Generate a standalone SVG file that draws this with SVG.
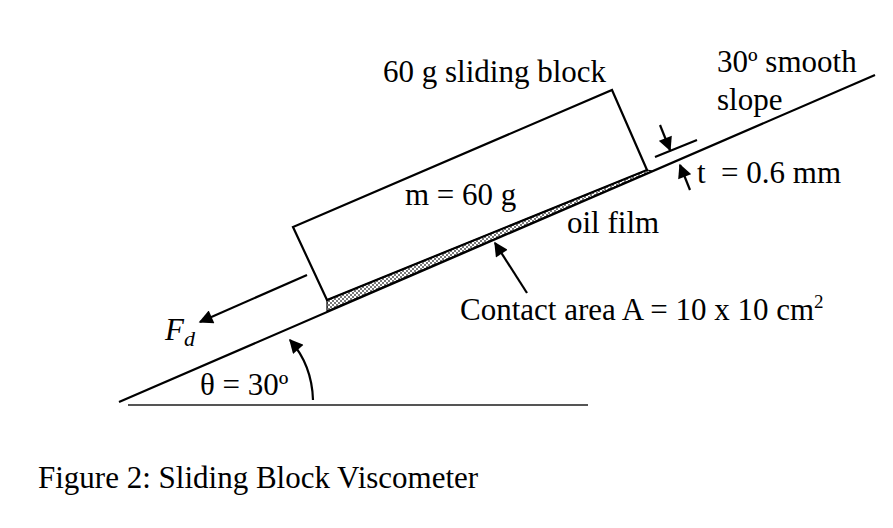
<svg xmlns="http://www.w3.org/2000/svg" width="893" height="528" viewBox="0 0 893 528">
<style>
text{font-family:"Liberation Serif","Times New Roman",serif;font-size:31px;fill:#000}
.l{stroke:#000;stroke-width:2.2;fill:none}
</style>
<defs>
<marker id="ahb" viewBox="0 0 10 10" refX="9" refY="5" markerWidth="16" markerHeight="14" markerUnits="userSpaceOnUse" orient="auto"><path d="M0,0L10,5L0,10z"/></marker>
<pattern id="hatch" width="4" height="4" patternUnits="userSpaceOnUse"><rect width="4" height="4" fill="#fff"/><rect width="2" height="2" fill="#777"/><rect x="2" y="2" width="2" height="2" fill="#777"/></pattern>
</defs>
<g id="ground"><line x1="128" y1="405" x2="588" y2="405" stroke="#555" stroke-width="2"/></g>
<g id="film"><polygon points="327,300 647,170 652,171 327,311" fill="url(#hatch)" stroke="#000" stroke-width="1.2"/></g>
<g id="slope"><line class="l" x1="119" y1="402" x2="875" y2="75"/></g>
<g id="block"><polygon class="l" points="327,300 293,227 612,90 647,170"/></g>
<g id="connectors">
<line class="l" x1="307" y1="275" x2="200" y2="322" marker-end="url(#ahb)"/>
<path class="l" d="M313,400 Q312,365 290,340" marker-end="url(#ahb)"/>
<line class="l" x1="527" y1="293" x2="495" y2="243" marker-end="url(#ahb)"/>
<line class="l" x1="660" y1="125" x2="670" y2="150" marker-end="url(#ahb)"/>
<line class="l" stroke-width="1.5" x1="655" y1="157" x2="697" y2="140"/>
<line class="l" x1="690" y1="190" x2="680" y2="165" marker-end="url(#ahb)"/>
</g>
<g id="labels">
<text x="383" y="82">60 g sliding block</text>
<text x="717" y="72">30º smooth</text>
<text x="717" y="110">slope</text>
<text x="697" y="183" xml:space="preserve">t  = 0.6 mm</text>
<text x="405" y="205">m = 60 g</text>
<text x="567" y="233">oil film</text>
<text x="460" y="320">Contact area A = 10 x 10 cm<tspan font-size="19" dy="-12">2</tspan></text>
<text x="165" y="340" font-style="italic">F<tspan font-size="22" dy="6">d</tspan></text>
<text x="200" y="395">θ = 30º</text>
<text x="38" y="488" font-size="30">Figure 2: Sliding Block Viscometer</text>
</g>
</svg>
